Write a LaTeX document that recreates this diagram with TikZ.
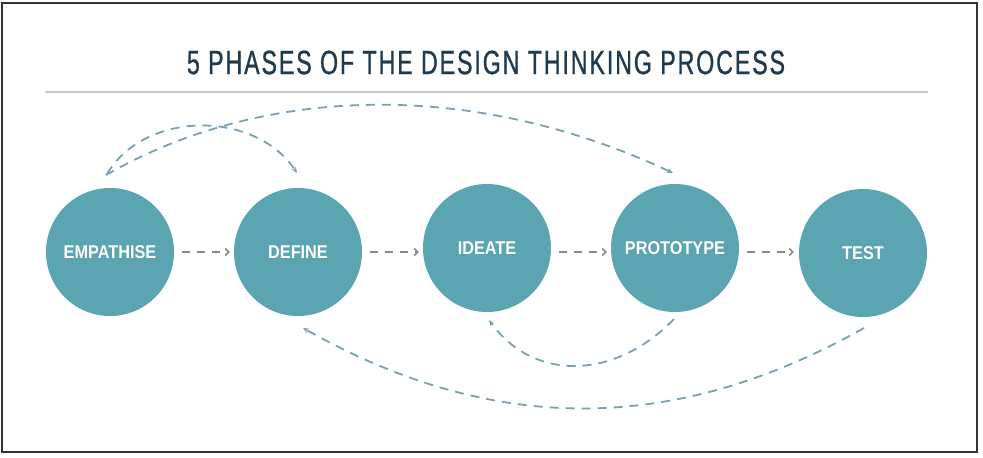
\documentclass[tikz,border=0pt]{standalone}
\usepackage{fontspec}
\usepackage{graphicx}
\usetikzlibrary{arrows.meta,calc}
\newfontfamily\titlefont{Liberation Sans}[FakeStretch=0.72,FakeBold=0.8]
\newfontfamily\circfont{Liberation Sans}[FakeStretch=0.88]
\definecolor{teal}{HTML}{5BA4B1}
\definecolor{curvecol}{HTML}{7B9FB3}
\definecolor{harrcol}{HTML}{8A8A8A}
\definecolor{titlecol}{HTML}{1F3A4E}
\definecolor{rulecol}{HTML}{C8C8C8}
\definecolor{framecol}{HTML}{333333}
\tikzset{
  phase/.style={circle, fill=teal, minimum size=128pt, inner sep=0pt,
    text=white, font=\circfont\bfseries\fontsize{18.5}{21}\selectfont},
  harrow/.style={draw=harrcol, line width=1.5pt, dash pattern=on 8pt off 7pt,
    -{Straight Barb[length=3.5pt,width=7pt]}},
  carrow/.style={draw=curvecol, line width=1.8pt, dash pattern=on 9pt off 7pt,
    -{Stealth[length=6pt,width=5pt]}},
}
\begin{document}
\begin{tikzpicture}[x=1pt,y=-1pt]
\useasboundingbox (0,0) rectangle (983,458);
\fill[white] (0,0) rectangle (983,458);
\draw[framecol, line width=2pt] (2,2.5) rectangle (977,452);
% title
\node[text=titlecol, inner sep=0pt] (title) at (486,62.5)
  {\resizebox{598pt}{23.5pt}{\titlefont\addfontfeature{LetterSpace=6}5 PHASES OF THE DESIGN THINKING PROCESS}};
\draw[rulecol, line width=1.5pt] (45,92) -- (928,92);
% phases
\node[phase] (e) at (110,252) {EMPATHISE};
\node[phase] (d) at (298,252) {DEFINE};
\node[phase] (i) at (487,248) {IDEATE};
\node[phase] (p) at (675,248) {PROTOTYPE};
\node[phase] (t) at (863,253) {TEST};
% straight arrows
\draw[harrow] ([xshift=8pt]e.east) -- ([xshift=-4pt]d.west);
\draw[harrow] ([xshift=8pt]d.east) -- ([xshift=-4pt]d.east -| i.west);
\draw[harrow] ([xshift=8pt]i.east |- d.east) -- ([xshift=-4pt]d.east -| p.west);
\draw[harrow] ([xshift=8pt]p.east |- d.east) -- ([xshift=-5pt]d.east -| t.west);
% curved arrows
\coordinate (a0) at ($(e)+(-3,-78)$);
\coordinate (a1) at ($(d)+(-1,-79)$);
\coordinate (b0) at ($(e)+(-4,-77)$);
\coordinate (b1) at ($(p)+(-2,-75)$);
\coordinate (c0) at ($(p)+(-1,71)$);
\coordinate (c1) at ($(i)+(2,72)$);
\coordinate (d0) at ($(t)+(1,75)$);
\coordinate (d1) at ($(d)+(5,76)$);
\draw[carrow] (a0) .. controls (145,110) and (255,110) .. (a1);
\draw[carrow] (b0) .. controls (261,86) and (470,78) .. (b1);
\draw[carrow] (c0) .. controls (614,381) and (533,381) .. (c1);
\draw[carrow] (d0) .. controls (674,435) and (493,435) .. (d1);
\end{tikzpicture}
\end{document}
